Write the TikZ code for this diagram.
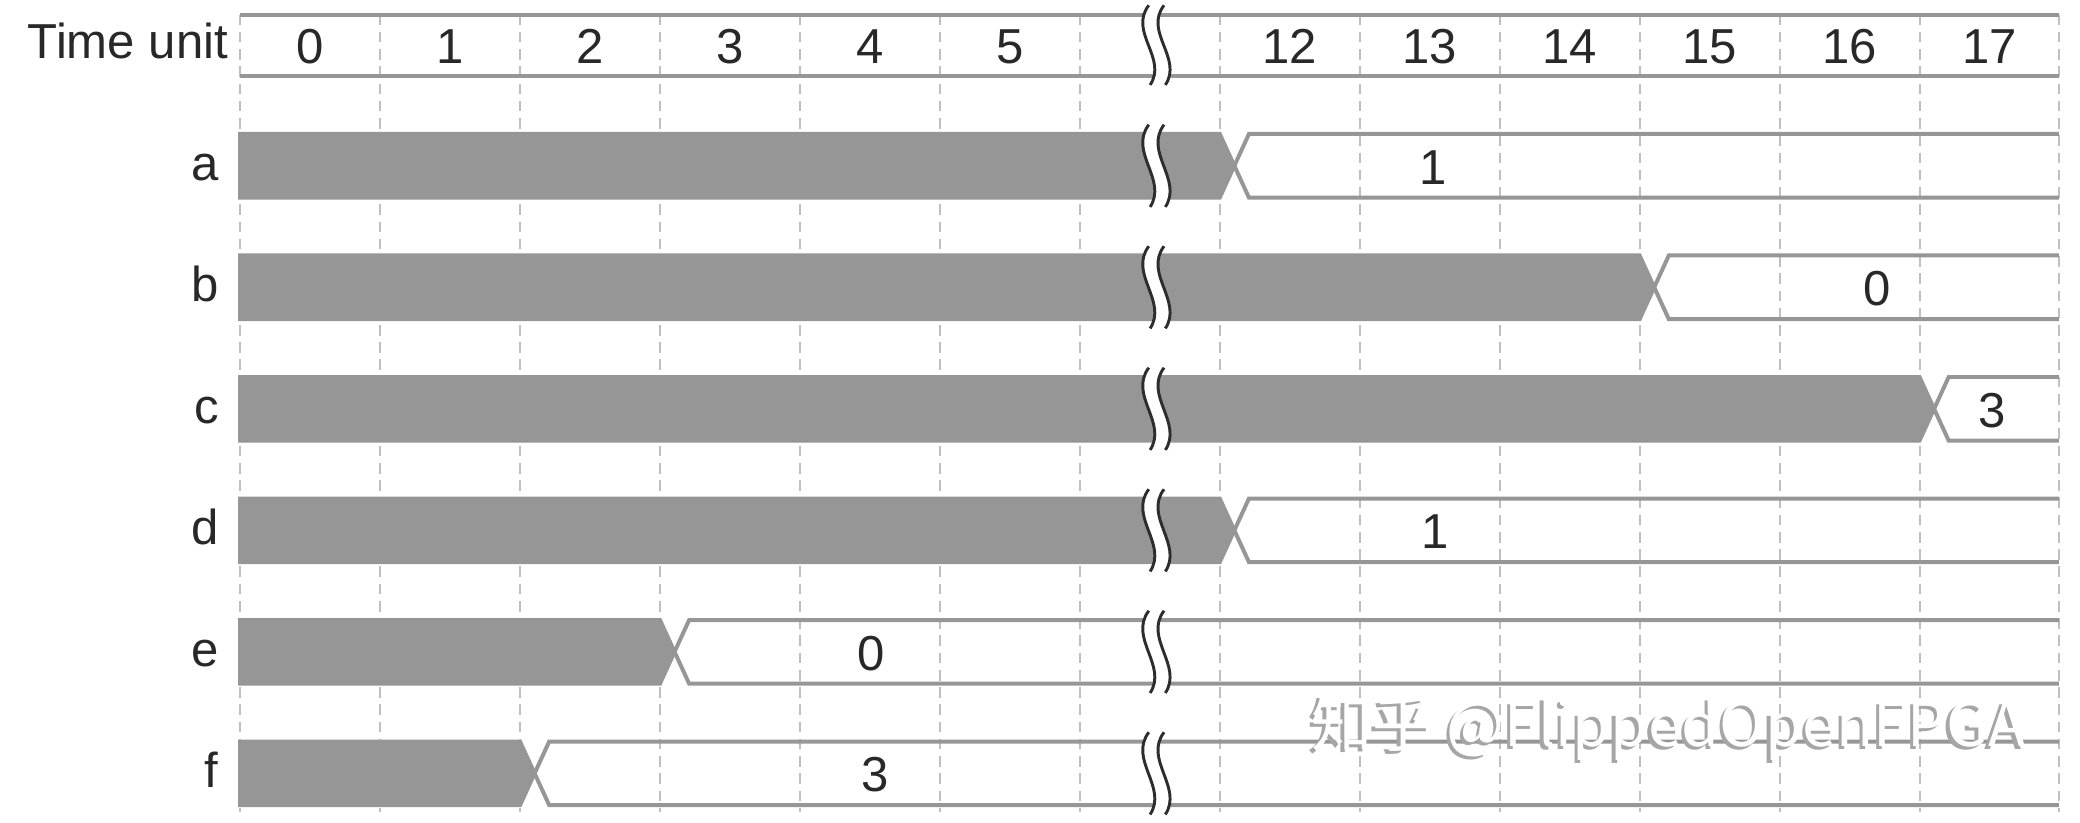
\documentclass[tikz,border=0pt]{standalone}
\usepackage{fontspec}
\setmainfont{Liberation Sans}
\newfontfamily\cjk{Noto Sans CJK SC}
\definecolor{wavegray}{RGB}{150,150,150}
\definecolor{gridgray}{RGB}{192,192,192}
\definecolor{cutdark}{RGB}{45,45,45}
\definecolor{textdark}{RGB}{40,40,40}
\tikzset{
	wave/.style={draw=wavegray,line width=3pt},
	gridline/.style={draw=gridgray,line width=1.5pt,dash pattern=on 8pt off 5pt},
	every node/.style={font=\fontsize{37}{41}\selectfont,text=textdark,inner sep=0pt}
}
\begin{document}
\begin{tikzpicture}[x=1pt,y=-1pt]
	\useasboundingbox (0,0) rectangle (1568,619.7);
	\def\xl{181}
	\def\xr{1552}
	\def\cw{105.5}
	\def\hh{24}
	\def\bx{866}
	%grid
	\foreach \i in {0,...,13}
		\draw[gridline] (\xl+\i*\cw,11) -- (\xl+\i*\cw,612);
	%header
	\draw[wave] (\xl,11) -- (\xr,11);
	\draw[wave] (\xl,57) -- (\xr,57);
	\node[anchor=base east] (timeunit) at (172,44) {Time unit};
	\foreach \t [count=\i from 0] in {0,...,5}
		\node[anchor=base] (tick\t) at (\xl+\i*\cw+.5*\cw,48) {\t};
	\foreach \t [count=\i from 7] in {12,...,17}
		\node[anchor=base] (tick\t) at (\xl+\i*\cw+.5*\cw,48) {\t};
	% signals: name / column where the value arrives / x of value / value
	\foreach \name/\col/\vx/\val [count=\r from 0] in {a/7/1080/1,b/10/1415/0,c/12/1502/3,d/7/1082/1,e/3/657/0,f/2/660/3}
	{
		\pgfmathsetmacro\yc{125+91.6*\r}
		\pgfmathsetmacro\xe{\xl+\col*\cw}
		\filldraw[wave,fill=wavegray] (\xl,\yc-\hh) -- (\xe,\yc-\hh) -- (\xe+11,\yc) -- (\xe,\yc+\hh) -- (\xl,\yc+\hh) -- cycle;
		\draw[wave] (\xr,\yc-\hh) -- (\xe+22,\yc-\hh) -- (\xe+11,\yc) -- (\xe+22,\yc+\hh) -- (\xr,\yc+\hh);
		\node[anchor=base east] (sig\name) at (165,\yc+11) {\name};
		\node (val\name) at (\vx,\yc+1) {\val};
	}
	% break marks
	\def\cutmark#1#2{
		\pgfmathsetmacro\ya{#1-7}
		\pgfmathsetmacro\yb{#2+7}
		\pgfmathsetmacro\yp{\ya+(\yb-\ya)/3}
		\pgfmathsetmacro\yq{\ya+2*(\yb-\ya)/3}
		\fill[white] (\bx,\ya) .. controls (\bx-15.5,\yp) and (\bx+14.4,\yq) .. (\bx+1,\yb)
			-- (\bx+12.5,\yb) .. controls (\bx+25.9,\yq) and (\bx-4,\yp) .. (\bx+11.5,\ya) -- cycle;
		\foreach \dx in {0,11.5}
			\draw[cutdark,line width=2.2pt] (\bx+\dx,\ya) .. controls (\bx+\dx-15.5,\yp) and (\bx+\dx+14.4,\yq) .. (\bx+\dx+1,\yb);
	}
	\cutmark{11}{57}
	\foreach \r in {0,...,5}
	{
		\pgfmathsetmacro\yc{125+91.6*\r}
		\cutmark{\yc-\hh}{\yc+\hh}
	}
	% watermark
	\node[text=gray!70,font=\cjk\fontsize{46}{50}\selectfont] (markshadow) at (1255,551) {知乎 @FlippedOpenFPGA};
	\node[text=white,font=\cjk\fontsize{46}{50}\selectfont] (mark) at (1257.5,548.5) {知乎 @FlippedOpenFPGA};
\end{tikzpicture}
\end{document}
